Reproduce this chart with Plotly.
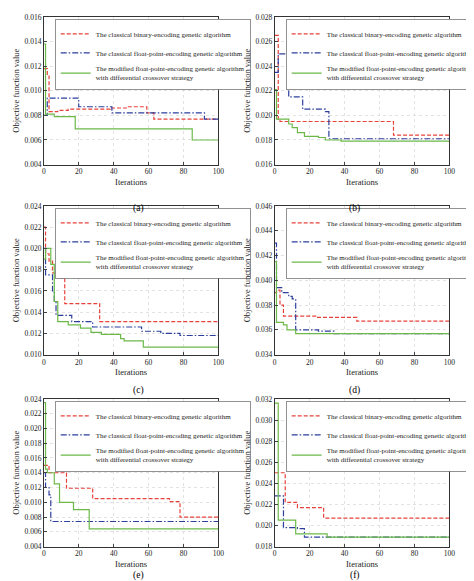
import plotly.graph_objects as go
from plotly.subplots import make_subplots

# step breakpoints (iteration, objective)
panels = ["(a)", "(b)", "(c)", "(d)", "(e)", "(f)"]
y_ranges = [(0.004, 0.016), (0.016, 0.028), (0.010, 0.024),
            (0.034, 0.046), (0.004, 0.024), (0.018, 0.032)]

binary_x = [[0, 2, 3, 8, 14, 38, 48, 59, 63, 100],
            [0, 2, 3, 68, 100],
            [0, 1, 3, 5, 10, 12, 32, 100],
            [0, 1, 3, 5, 24, 47, 100],
            [0, 3, 13, 28, 72, 78, 100],
            [0, 6, 13, 28, 100]]
binary_y = [[0.0118, 0.0112, 0.0083, 0.0084, 0.0085, 0.0086, 0.0087, 0.0082, 0.0077, 0.0077],
            [0.0265, 0.0196, 0.0195, 0.0184, 0.0184],
            [0.0220, 0.0195, 0.0188, 0.0177, 0.0172, 0.0148, 0.0131, 0.0132],
            [0.0390, 0.0392, 0.0380, 0.0371, 0.0370, 0.0367, 0.0367],
            [0.0150, 0.0140, 0.0119, 0.0105, 0.0101, 0.0080, 0.0080],
            [0.0250, 0.0222, 0.0217, 0.0207, 0.0207]]

float_x = [[0, 2, 20, 39, 92, 100],
           [0, 2, 7, 8, 16, 29, 31, 100],
           [0, 1, 5, 6, 7, 16, 28, 56, 67, 78, 100],
           [0, 1, 4, 8, 10, 12, 25, 34, 100],
           [0, 1, 3, 4, 100],
           [0, 5, 13, 17, 100]]
float_y = [[0.0080, 0.0094, 0.0087, 0.0082, 0.0077, 0.0077],
           [0.0235, 0.0250, 0.0242, 0.0215, 0.0205, 0.0203, 0.0181, 0.0181],
           [0.0200, 0.0175, 0.0160, 0.0150, 0.0137, 0.0131, 0.0126, 0.0122, 0.0120, 0.0118, 0.0118],
           [0.0430, 0.0394, 0.0390, 0.0387, 0.0385, 0.0360, 0.0359, 0.0357, 0.0356],
           [0.0140, 0.0120, 0.0110, 0.0074, 0.0074],
           [0.0228, 0.0198, 0.0197, 0.0189, 0.0189]]

modified_x = [[0, 1, 6, 18, 85, 100],
              [0, 1, 8, 10, 13, 17, 25, 29, 38, 100],
              [0, 1, 4, 6, 8, 14, 21, 27, 33, 44, 46, 57, 100],
              [0, 1, 5, 7, 12, 100],
              [0, 1, 2, 6, 9, 17, 26, 100],
              [0, 2, 12, 30, 100]]
modified_y = [[0.0138, 0.0081, 0.0079, 0.0069, 0.0060, 0.0060],
              [0.0221, 0.0197, 0.0193, 0.0190, 0.0186, 0.0183, 0.0182, 0.0180, 0.0179, 0.0179],
              [0.0190, 0.0200, 0.0185, 0.0150, 0.0131, 0.0128, 0.0125, 0.0121, 0.0119, 0.0115, 0.0113, 0.0107, 0.0107],
              [0.0415, 0.0366, 0.0364, 0.0360, 0.0357, 0.0356],
              [0.0235, 0.0145, 0.0140, 0.0125, 0.0100, 0.0090, 0.0064, 0.0064],
              [0.0316, 0.0205, 0.0192, 0.0189, 0.0189]]

names = ["The classical binary-encoding genetic algorithm",
         "The classical float-point-encoding genetic algorithm",
         "The modified float-point-encoding genetic algorithm<br>with differential crossover strategy"]
colors = ["#e8413a", "#2c3f9e", "#6cb94a"]
dashes = ["4px,2px", "6px,2px,1.5px,2px", "solid"]

FONT = "Liberation Serif"
W, H = 474, 581
col_dom = [(36 / W, 222 / W), (282 / W, 468 / W)]
row_dom = [(1 - 155 / H, 1 - 5 / H), (1 - 348 / H, 1 - 197 / H), (1 - 543 / H, 1 - 393 / H)]

fig = make_subplots(rows=3, cols=2)

for i in range(6):
    r, c = i // 2 + 1, i % 2 + 1
    lg = "legend" if i == 0 else f"legend{i + 1}"
    series = [(binary_x[i], binary_y[i]), (float_x[i], float_y[i]), (modified_x[i], modified_y[i])]
    for k, (xs, ys) in enumerate(series):
        fig.add_trace(go.Scatter(x=xs, y=ys, mode="lines", line_shape="hv", name=names[k],
                                 line=dict(color=colors[k], dash=dashes[k], width=1.2),
                                 legend=lg), row=r, col=c)
    xd, yd = col_dom[c - 1], row_dom[r - 1]
    fig.update_xaxes(domain=list(xd), range=[0, 100], dtick=20, row=r, col=c,
                     title=dict(text="Iterations", font=dict(size=8.5, family=FONT), standoff=3))
    y0, y1 = y_ranges[i]
    fig.update_yaxes(domain=list(yd), range=[y0, y1], dtick=0.002, tickformat=".3f", row=r, col=c,
                     title=dict(text="Objective function value", font=dict(size=8.5, family=FONT), standoff=3))
    fig.update_layout({lg: dict(x=xd[0] + 0.025, y=yd[1] - 0.003, xanchor="left", yanchor="top",
                                bgcolor="white", bordercolor="#777", borderwidth=0.8,
                                font=dict(size=7, family=FONT, color="#222"), tracegroupgap=0,
                                itemwidth=30)})
    fig.add_annotation(text=panels[i], x=(xd[0] + xd[1]) / 2, y=yd[0] - 0.063, xref="paper", yref="paper",
                       showarrow=False, font=dict(size=9.5, family=FONT, color="black"))

fig.update_xaxes(showline=True, mirror=True, linecolor="#333", linewidth=0.8, ticks="inside", ticklen=3,
                 showgrid=True, gridcolor="#e2e2e2", griddash="dot", zeroline=False,
                 tickfont=dict(size=7.5, family=FONT, color="#222"))
fig.update_yaxes(showline=True, mirror=True, linecolor="#333", linewidth=0.8, ticks="inside", ticklen=3,
                 showgrid=True, gridcolor="#e2e2e2", griddash="dot", zeroline=False,
                 tickfont=dict(size=7.5, family=FONT, color="#222"))

fig.update_layout(width=W, height=H, margin=dict(l=0, r=0, t=0, b=0),
                  paper_bgcolor="white", plot_bgcolor="white",
                  font=dict(family=FONT, color="#222"))

fig.write_html("out.html")
